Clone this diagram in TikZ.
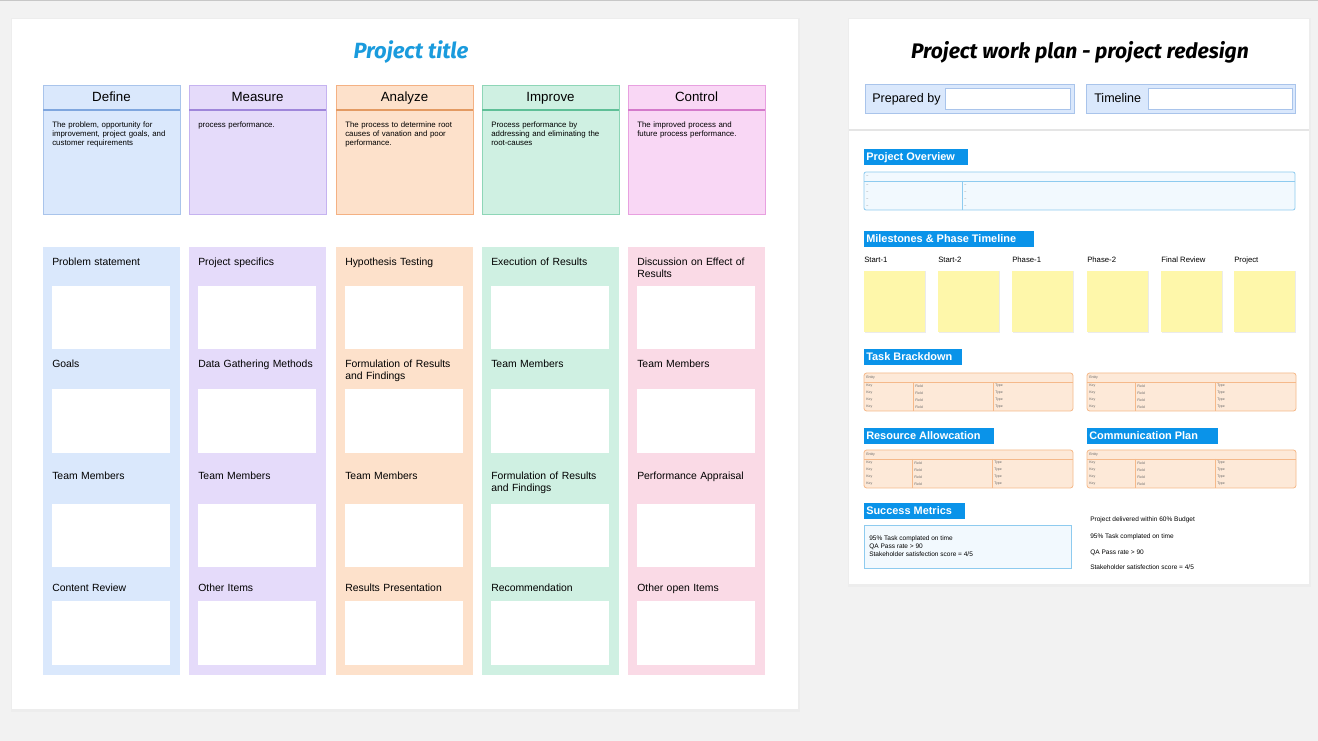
\documentclass[tikz,border=0pt]{standalone}
\usepackage{fontspec}
\setmainfont{Liberation Sans}
\newfontfamily\hand{Fira Sans}
\definecolor{bgc}{HTML}{F2F2F2}
\definecolor{bluef}{HTML}{DAE8FC}\definecolor{blueb}{HTML}{A9C4EB}\definecolor{bluel}{HTML}{7FA6DE}
\definecolor{purf}{HTML}{E5DBFA}\definecolor{purb}{HTML}{C5B3F0}\definecolor{purl}{HTML}{9F86DA}
\definecolor{oraf}{HTML}{FDE1CB}\definecolor{orab}{HTML}{F4B183}\definecolor{oral}{HTML}{E39A62}
\definecolor{grnf}{HTML}{CFF0E2}\definecolor{grnb}{HTML}{8ED6B7}\definecolor{grnl}{HTML}{5FBF97}
\definecolor{pinkf}{HTML}{F9D7F5}\definecolor{pinkb}{HTML}{E8A0E0}\definecolor{pinkl}{HTML}{D47ACB}
\definecolor{pinkc}{HTML}{FADAE6}
\definecolor{ttl}{HTML}{1A9BDD}
\definecolor{secb}{HTML}{0A93E9}
\definecolor{yel}{HTML}{FEF7AA}
\definecolor{tabf}{HTML}{FDE9D8}\definecolor{tabb}{HTML}{F5B98A}
\definecolor{ltf}{HTML}{F2F9FE}\definecolor{ltb}{HTML}{8ECBEF}
\newcommand\tinyf{\fontsize{2.6}{3}\selectfont}
\tikzset{
  lbl/.style={anchor=north west,inner sep=0pt,font=\fontsize{7.8}{9.5}\selectfont,text width=100pt,align=left,
    execute at begin node={\hyphenpenalty=10000\exhyphenpenalty=10000\strut}},
  cardtext/.style={anchor=north west,inner sep=0pt,font=\fontsize{5.9}{6.9}\selectfont,text width=87pt,align=left,
    execute at begin node={\hyphenpenalty=10000\exhyphenpenalty=10000}},
  head/.style={anchor=base,inner sep=0pt,font=\fontsize{10}{12}\selectfont},
  sec/.style={anchor=base west,inner sep=0pt,font=\bfseries\fontsize{8.2}{10}\selectfont,text=white},
  ms/.style={anchor=base west,inner sep=0pt,font=\fontsize{5.8}{7}\selectfont},
  tt/.style={anchor=west,inner sep=0pt,font=\tinyf,text=black!60},
  sm/.style={anchor=base west,inner sep=0pt,font=\fontsize{4.9}{6}\selectfont},
}
% top card: x, name, fill, border, line, title, text
\newcommand\mycard[7]{%
  \draw[fill=#3,draw=#4,line width=0.6pt] (#1,85) rectangle ++(137,129);
  \draw[#5,line width=0.8pt] (#1,110) -- ++(137,0);
  \node[head] (#2h) at (#1+68.5,101.5) {#6};
  \node[cardtext] (#2t) at (#1+9,121.5) {#7};
}
% column: x, name, fill, four labels
\newcommand\mycol[7]{%
  \fill[#3] (#1,247) rectangle ++(137,428);
  \node[lbl] (#2a) at (#1+9,256) {#4};
  \fill[white] (#1+9,286) rectangle (#1+127,349);
  \node[lbl] (#2b) at (#1+9,358) {#5};
  \fill[white] (#1+9,389) rectangle (#1+127,453);
  \node[lbl] (#2c) at (#1+9,470) {#6};
  \fill[white] (#1+9,504) rectangle (#1+127,567);
  \node[lbl] (#2d) at (#1+9,582) {#7};
  \fill[white] (#1+9,601) rectangle (#1+127,665);
}
% orange table: x, y, width, name, d1, d2
\newcommand\mytab[6]{%
  \draw[fill=tabf,draw=tabb,line width=0.6pt,rounded corners=2pt] (#1,#2) rectangle ++(#3,38);
  \draw[tabb,line width=0.5pt] (#1,#2+9) -- ++(#3,0);
  \draw[tabb,line width=0.5pt] (#1+#5,#2+9) -- ++(0,29);
  \draw[tabb,line width=0.5pt] (#1+#6,#2+9) -- ++(0,29);
  \node[tt] (#4e) at (#1+2,#2+4.5) {Entity};
  \foreach \r [count=\i] in {13,20,27,34}{
    \node[tt] (#4k\i) at (#1+2,#2+\r) {Key};
    \node[tt] (#4f\i) at (#1+#5+2,#2+\r) {Field};
    \node[tt] (#4y\i) at (#1+#6+2,#2+\r) {Type};
  }
}
\begin{document}
\begin{tikzpicture}[x=0.75pt,y=-0.75pt]
\useasboundingbox (0,0) rectangle (1318,741);
\fill[bgc] (0,0) rectangle (1318,741);
\fill[black!22] (0,0) rectangle (1318,1.5);
% panels
\fill[black!7] (11,18) rectangle (800,712);
\fill[white] (12,19) rectangle (798,709);
\fill[black!7] (848,18) rectangle (1311,587);
\fill[white] (849,19) rectangle (1309,584);

% left title
\node[inner sep=0pt,font=\hand\bfseries\itshape\fontsize{16.5}{19}\selectfont,text=ttl] (ptitle) at (411,52) {Project title};

\mycard{43}{def}{bluef}{blueb}{bluel}{Define}{The problem, opportunity for improvement, project goals, and customer requirements}
\mycard{189}{mea}{purf}{purb}{purl}{Measure}{process performance.}
\mycard{336}{ana}{oraf}{orab}{oral}{Analyze}{The process to determine root causes of vanation and poor performance.}
\mycard{482}{imp}{grnf}{grnb}{grnl}{Improve}{Process performance by addressing and eliminating the root-causes}
\mycard{628}{con}{pinkf}{pinkb}{pinkl}{Control}{The improved process and future process performance.}

\mycol{43}{c1}{bluef}{Problem statement}{Goals}{Team Members}{Content Review}
\mycol{189}{c2}{purf}{Project specifics}{Data Gathering Methods}{Team Members}{Other Items}
\mycol{336}{c3}{oraf}{Hypothesis Testing}{Formulation of Results\\and Findings}{Team Members}{Results Presentation}
\mycol{482}{c4}{grnf}{Execution of Results}{Team Members}{Formulation of Results\\and Findings}{Recommendation}
\mycol{628}{c5}{pinkc}{Discussion on Effect of\\Results}{Team Members}{Performance Appraisal}{Other open Items}

% right panel
\node[inner sep=0pt,font=\hand\bfseries\itshape\fontsize{15.8}{19}\selectfont] (wtitle) at (1080,52) {Project work plan - project redesign};
\draw[fill=bluef,draw=blueb,line width=0.7pt] (865,84) rectangle (1074,113);
\draw[fill=white,draw=blueb,line width=0.5pt] (945,88) rectangle (1070,109);
\node[anchor=base west,inner sep=0pt,font=\fontsize{9.4}{11}\selectfont] (prep) at (872,103) {Prepared by};
\draw[fill=bluef,draw=blueb,line width=0.7pt] (1086,84) rectangle (1295,113);
\draw[fill=white,draw=blueb,line width=0.5pt] (1148,88) rectangle (1292,109);
\node[anchor=base west,inner sep=0pt,font=\fontsize{9.4}{11}\selectfont] (tline) at (1094,103) {Timeline};
\draw[black!10,line width=0.8pt] (849,130) -- (1309,130);

% Project overview
\fill[secb] (864,149) rectangle (968,165);
\node[sec] (s1) at (866,161) {Project Overview};
\draw[fill=ltf,draw=ltb,line width=0.6pt,rounded corners=1.5pt] (864,172) rectangle (1295,210);
\draw[ltb,line width=0.5pt] (864,181) -- (1295,181);
\draw[ltb,line width=0.5pt] (962,181) -- (962,210);
\node[tt] (ov0) at (866,176.5) {--};
\foreach \r [count=\i] in {185,192,199,206}{
  \node[tt] (ova\i) at (866,\r) {--};
  \node[tt] (ovb\i) at (964,\r) {--};
}

% Milestones
\fill[secb] (864,231) rectangle (1034,247);
\node[sec] (s2) at (866,243) {Milestones \& Phase Timeline};
\foreach \x/\t [count=\i] in {864/Start-1,938/Start-2,1012/Phase-1,1087/Phase-2,1161/Final Review,1234/Project}{
  \node[ms] (msl\i) at (\x,262.5) {\t};
  \fill[black!8] (\x+0.5,271.5) rectangle ++(61,61.5);
  \fill[yel] (\x,271) rectangle ++(61,61);
}

% Task breakdown
\fill[secb] (864,349) rectangle (962,365);
\node[sec] (s3) at (866,361) {Task Brackdown};
\mytab{864}{373}{209}{ta}{49}{129}
\mytab{1087}{373}{209}{tb}{48}{128}

% Resource / Communication
\fill[secb] (864,428) rectangle (994,444);
\node[sec] (s4) at (866,440) {Resource Allowcation};
\fill[secb] (1087,428) rectangle (1218,444);
\node[sec] (s5) at (1089,440) {Communication Plan};
\mytab{864}{450}{209}{tc}{48}{128}
\mytab{1087}{450}{209}{td}{48}{128}

% Success metrics
\fill[secb] (864,503) rectangle (965,519);
\node[sec] (s6) at (866,515) {Success Metrics};
\draw[fill=ltf,draw=ltb,line width=0.6pt] (864,525) rectangle (1071,568);
\node[anchor=north west,inner sep=0pt,font=\fontsize{4.9}{6}\selectfont,align=left] (smt) at (869,535.5)
  {95\% Task complated on time\\QA Pass rate > 90\\Stakeholder satisfection score = 4/5};
\node[sm] (sr1) at (1090,522) {Project delivered within 60\% Budget};
\node[sm] (sr2) at (1090,538) {95\% Task complated on time};
\node[sm] (sr3) at (1090,554) {QA Pass rate > 90};
\node[sm] (sr4) at (1090,570) {Stakeholder satisfection score = 4/5};
\end{tikzpicture}
\end{document}
